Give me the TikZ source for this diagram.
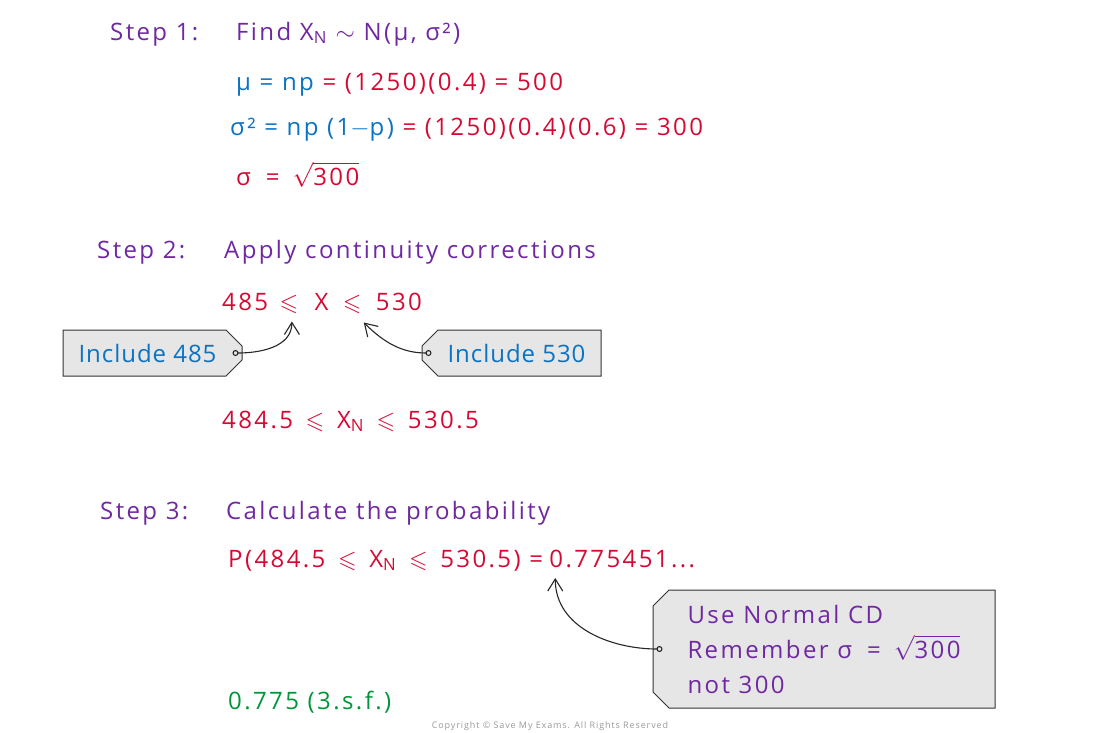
\documentclass[tikz,border=0pt]{standalone}
\usepackage{amsmath,amssymb}
\usepackage{fontspec}
\setmainfont[LetterSpace=10]{Open Sans}
\usetikzlibrary{arrows.meta,positioning,shapes.misc}

\definecolor{stepPurple}{RGB}{112,40,160}
\definecolor{workBlue}{RGB}{10,115,195}
\definecolor{workRed}{RGB}{213,10,52}
\definecolor{ansGreen}{RGB}{0,150,57}
\definecolor{tagGrey}{RGB}{230,230,230}

\tikzset{
  txt/.style={anchor=base west, inner sep=0pt, font=\fontsize{24}{35}\selectfont},
  tag/.style={chamfered rectangle, chamfered rectangle xsep=8pt, chamfered rectangle ysep=8pt,
    draw=black!80, fill=tagGrey, line width=1pt, inner sep=0pt, font=\fontsize{24}{35}\selectfont},
  pointer/.style={{Circle[open,length=6pt,width=6pt]}-{Straight Barb[length=12pt,width=15pt]}, line width=1.1pt, black!85}
}

\begin{document}
\begin{tikzpicture}[x=1pt,y=-1pt]
      \useasboundingbox (0,0) rectangle (1100,732);
      \node[txt, stepPurple] (step1) at (110,40) {Step 1:};
      \node[txt, stepPurple] (find) at (236,40) {Find X$_{\text{N}}$ $\sim$ N(μ, σ²)};
      \node[txt] (mean) at (236,90) {\textcolor{workBlue}{μ = np} \textcolor{workRed}{= (1250)(0.4) = 500}};
      \node[txt] (var) at (230,135) {\textcolor{workBlue}{σ² = np (1$-$p)} \textcolor{workRed}{= (1250)(0.4)(0.6) = 300}};
      \node[txt, workRed] (sd) at (236,185) {σ\hspace{15pt}=\hspace{13pt}$\sqrt{\text{300}}$};

      \node[txt, stepPurple] (step2) at (97,258) {Step 2:};
      \node[txt, stepPurple] (apply) at (224,258) {Apply continuity corrections};
      \node[txt, workRed] (lo) at (222,310) {485};
      \node[txt, workRed, base right=11pt of lo] (leqA) {$\leqslant$};
      \node[txt, workRed, base right=16pt of leqA] (xx) {X};
      \node[txt, workRed, base right=14pt of xx] (leqB) {$\leqslant$};
      \node[txt, workRed, base right=14pt of leqB] (hi) {530};
      \node[tag, chamfered rectangle corners={north east,south east}, minimum width=179, minimum height=46, text=workBlue] (inc485) at (152.5,353) {\addfontfeature{LetterSpace=4}Include 485\hspace*{10pt}};
      \node[tag, chamfered rectangle corners={north west,south west}, minimum width=179, minimum height=46, text=workBlue] (inc530) at (511.5,353) {\addfontfeature{LetterSpace=4}\hspace*{10pt}Include 530};
      \draw[pointer] ([xshift=-10pt]inc485.east) to[out=0,in=-90] ([xshift=3pt,yshift=-8pt]leqA.south);
      \draw[pointer] ([xshift=10pt]inc530.west) to[out=180,in=-45] ([xshift=2pt,yshift=-9pt]leqB.south east);
      \node[txt, workRed] (cont) at (222,428) {484.5 \,$\leqslant$\, X$_{\text{N}}$ \,$\leqslant$\, 530.5};

      \node[txt, stepPurple] (step3) at (100,519) {Step 3:};
      \node[txt, stepPurple] (calc) at (226,519) {Calculate the probability};
      \node[txt, workRed] (lhs) at (228,567) {P(484.5 \,$\leqslant$\, X$_{\text{N}}$ \,$\leqslant$\, 530.5) =};
      \node[txt, workRed, base right=6pt of lhs] (prob) {0.775451...};
      \node[tag, chamfered rectangle corners={north west,south west}, minimum width=342, minimum height=118, text=stepPurple, align=left] (note) at (824,649) {Use Normal CD\\Remember σ\hspace{15pt}=\hspace{13pt}$\sqrt{\text{300}}$\\not 300};
      \draw[pointer] ([xshift=10pt]note.west) to[out=180,in=-90] ([xshift=6pt,yshift=-11pt]prob.base west);
      \node[txt, ansGreen] (ans) at (228,709) {0.775 (3.s.f.)};
      \node[font=\fontsize{9}{11}\selectfont, text=black!40] (copy) at (550,726) {Copyright © Save My Exams. All Rights Reserved};
\end{tikzpicture}
\end{document}
